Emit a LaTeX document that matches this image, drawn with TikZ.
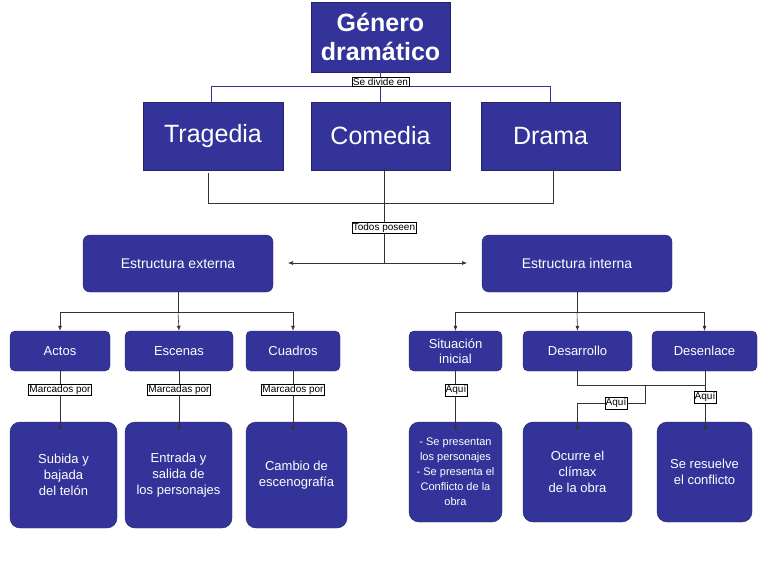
\documentclass[tikz,border=0pt]{standalone}
\usepackage{fontspec}
\setmainfont{Liberation Sans}
\usetikzlibrary{arrows.meta}
\definecolor{nv}{HTML}{333399}
\begin{document}
\begin{tikzpicture}[x=1pt,y=-1pt,
 box/.style={fill=nv,draw=nv!70!black,text=white,inner sep=0pt,align=center},
 big/.style={box,font=\fontsize{25}{28}\selectfont},
 mid/.style={box,rounded corners=7pt,font=\fontsize{14}{17}\selectfont},
 sm/.style={box,rounded corners=5pt,font=\fontsize{13}{15}\selectfont},
 bot/.style={box,rounded corners=10pt,font=\fontsize{13}{16}\selectfont},
 lab/.style={draw=black,fill=white,inner sep=1pt,font=\fontsize{10}{11}\selectfont},
 arr/.style={-{Latex[length=5pt,width=4pt]}},
 ln/.style={draw=black!80,line width=0.6pt}]
\useasboundingbox (0,0) rectangle (768,576);
\node[box,minimum width=139,minimum height=70,font=\bfseries\fontsize{25}{29}\selectfont] (g) at (380.5,37) {Género\\dramático};
\node[big,minimum width=140,minimum height=68] (t) at (213,136) {Tragedia};
\node[big,minimum width=139,minimum height=68] (c) at (380.5,136) {Comedia};
\node[big,minimum width=139,minimum height=68] (d) at (550.5,136) {Drama};
\node[mid,minimum width=190,minimum height=57] (ee) at (178,263.5) {Estructura externa};
\node[mid,minimum width=190,minimum height=57] (ei) at (577,263.5) {Estructura interna};
\node[sm,minimum width=100,minimum height=40] (a1) at (60,351) {Actos};
\node[sm,minimum width=108,minimum height=40] (a2) at (179,351) {Escenas};
\node[sm,minimum width=94,minimum height=40] (a3) at (293,351) {Cuadros};
\node[sm,minimum width=93,minimum height=40] (b1) at (455.5,351) {Situación\\inicial};
\node[sm,minimum width=109,minimum height=40] (b2) at (577.5,351) {Desarrollo};
\node[sm,minimum width=105,minimum height=40] (b3) at (704.5,351) {Desenlace};
\node[bot,minimum width=107,minimum height=106] (c1) at (63.5,475) {Subida y\\bajada\\del telón};
\node[bot,minimum width=107,minimum height=106] (c2) at (178.5,475) {Entrada y\\salida de\\los personajes};
\node[bot,minimum width=101,minimum height=106] (c3) at (296.5,475) {Cambio de\\escenografía};
\node[bot,minimum width=93,minimum height=100,font=\fontsize{11}{15}\selectfont] (d1) at (455.5,472) {- Se presentan\\los personajes\\- Se presenta el\\Conflicto de la\\obra};
\node[bot,minimum width=109,minimum height=100] (d2) at (577.5,472) {Ocurre el\\clímax\\de la obra};
\node[bot,minimum width=95,minimum height=100] (d3) at (704.5,472) {Se resuelve\\el conflicto};
% top
\coordinate (h1) at (211,86); \coordinate (h2) at (550,86);
\draw[draw=nv,line width=0.8pt] (g.south) -- (c.north);
\draw[draw=nv,line width=0.8pt] (t.north -| h1) -- (h1) -- (h2) -- (d.north -| h2);
\node[lab] (l0) at (380.5,82) {Se divide en};
% middle
\coordinate (m1) at (208,203); \coordinate (m2) at (553,203); \coordinate (mc) at (384,263);
\draw[ln] (m1 |- t.south) ++(0,3) -- (m1) -- (m2) -- ([yshift=3]m2 |- d.south);
\draw[ln] ([yshift=3]mc |- c.south) -- (mc);
\draw[ln,arr] (mc) -- (288,263) coordinate (ea);
\draw[ln,arr] (mc) -- (467,263) coordinate (ia);
\node[lab] (l1) at (384,228) {Todos poseen};
% external
\coordinate (e0) at (178,312);
\draw[ln] (ee.south) -- (e0);
\draw[ln,arr] (e0) -- (a2.north);
\draw[ln,arr] (e0) -| (a1.north);
\draw[ln,arr] (e0) -| (a3.north);
\foreach \s/\t in {a1/c1,a2/c2,a3/c3}{
 \draw[ln,arr] (\s.south |- \s.south) -- ([yshift=-9]\s.south |- \t.north);}
\node[lab] at (60,390) {Marcados por};
\node[lab] at (179,390) {Marcadas por};
\node[lab] at (293,390) {Marcados por};
% internal
\coordinate (i0) at (577,312);
\draw[ln] (ei.south) -- (i0);
\draw[ln,arr] (i0) -- (b2.north);
\draw[ln,arr] (i0) -| (b1.north);
\draw[ln,arr] (i0) -| (b3.north);
\draw[ln,arr] (b1.south) -- ([yshift=-9]d1.north);
\node[lab] at (456,390) {Aquí};
\coordinate (r1) at (577,385); \coordinate (r2) at (705,385); \coordinate (r3) at (645,385); \coordinate (r4) at (645,403); \coordinate (r5) at (577,403);
\draw[ln] (b2.south -| r1) -- (r1) -- (r2);
\draw[ln,arr] (b3.south -| r2) -- ([yshift=-9]d3.north -| r2);
\draw[ln,arr] (r3) -- (r4) -- (r5) -- ([yshift=-9]d2.north -| r5);
\node[lab] at (616,403) {Aquí};
\node[lab] at (705,397) {Aquí};
\end{tikzpicture}
\end{document}
